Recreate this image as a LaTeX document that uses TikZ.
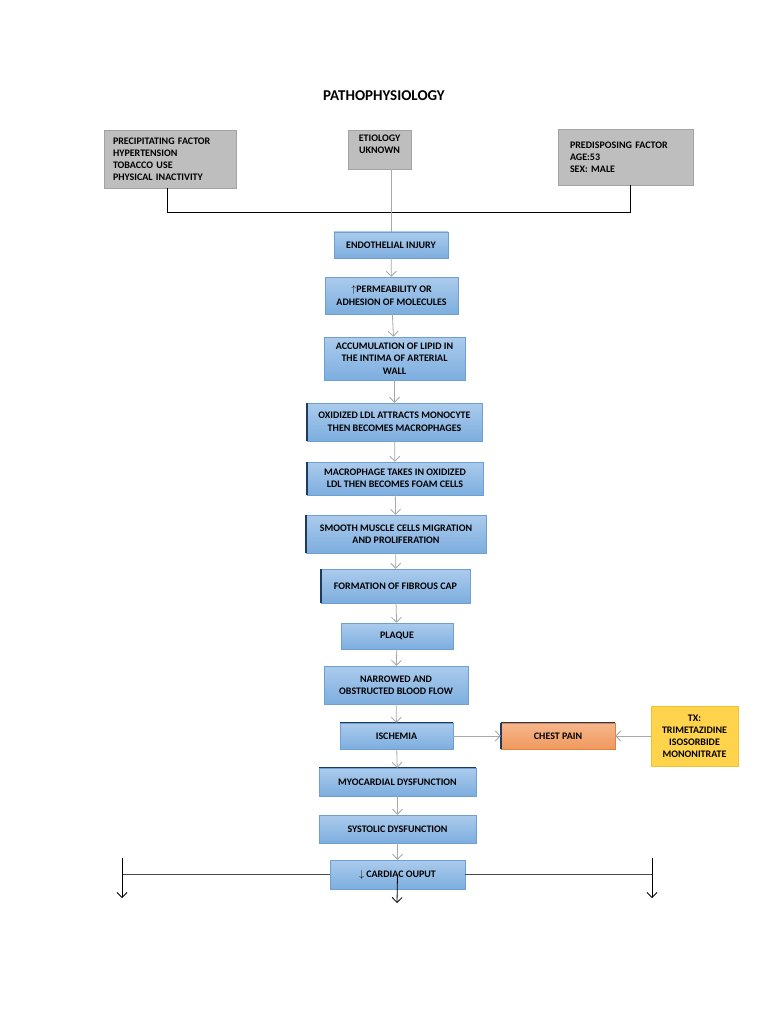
\documentclass[tikz,border=0pt]{standalone}
\usepackage{fontspec}
\setmainfont{Carlito}
\usetikzlibrary{arrows.meta}
\definecolor{boxtop}{HTML}{ABCBEC}
\definecolor{boxbot}{HTML}{7DAEDF}
\definecolor{boxedge}{HTML}{6D9FD3}
\definecolor{boxmark}{HTML}{1F3A5F}
\definecolor{grayfill}{HTML}{BEBEBE}
\definecolor{grayedge}{HTML}{A3A3A3}
\definecolor{orangetop}{HTML}{F6B58B}
\definecolor{orangebot}{HTML}{F09A5E}
\definecolor{orangeedge}{HTML}{E0813F}
\definecolor{yellowfill}{HTML}{FFD34C}
\definecolor{yellowedge}{HTML}{F1C033}
\definecolor{arrowgray}{HTML}{A8A8A8}
\tikzset{
    boxfont/.style={font=\bfseries\fontsize{10}{12.5}\selectfont},
    flowbox/.style={draw=boxedge, top color=boxtop, bottom color=boxbot, align=center, boxfont, inner sep=0pt},
    causebox/.style={draw=grayedge, fill=grayfill, font=\bfseries\fontsize{10}{12}\selectfont, inner sep=0pt},
    painbox/.style={draw=orangeedge, top color=orangetop, bottom color=orangebot, align=center, boxfont, inner sep=0pt},
    txbox/.style={draw=yellowedge, fill=yellowfill, align=center,
        font=\bfseries\fontsize{10}{12}\selectfont, inner sep=0pt},
    markline/.style={draw=boxmark, line width=1.6pt},
    flowarrow/.style={draw=arrowgray, line width=0.8pt, -{Straight Barb[length=5pt, width=10pt]}},
    joinline/.style={draw=black, line width=0.9pt},
}
\begin{document}
\begin{tikzpicture}[x=1pt, y=-1pt]
    \useasboundingbox (0,0) rectangle (768,1024);
    \node[font=\bfseries\fontsize{15}{18}\selectfont] (title) at (384,96) {PATHOPHYSIOLOGY};
    % causes
    \node[causebox, align=left, text width=114, inner xsep=9pt, minimum height=58] (prec) at (170,159)
        {PRECIPITATING FACTOR\\HYPERTENSION\\TOBACCO USE\\PHYSICAL INACTIVITY};
    \node[causebox, align=center, minimum width=63, minimum height=39, text depth=11pt] (etio) at (379.5,149.5)
        {ETIOLOGY\\UKNOWN};
    \node[causebox, align=left, text width=111, inner xsep=12pt, minimum height=56] (pred) at (625.5,157)
        {PREDISPOSING FACTOR\\AGE:53\\SEX: MALE};
    % main chain
    \node[flowbox, minimum width=114, minimum height=26] (endo) at (391,245) {ENDOTHELIAL INJURY};
    \node[flowbox, minimum width=133, minimum height=37] (perm) at (391.5,295.5) {$\uparrow$PERMEABILITY OR\\ADHESION OF MOLECULES};
    \node[flowbox, minimum width=141, minimum height=43] (lipid) at (394.5,358.5) {ACCUMULATION OF LIPID IN\\THE INTIMA OF ARTERIAL\\WALL};
    \node[flowbox, minimum width=175, minimum height=38] (ldl) at (394.5,422) {OXIDIZED LDL ATTRACTS MONOCYTE\\THEN BECOMES MACROPHAGES};
    \node[flowbox, minimum width=176, minimum height=33] (foam) at (395,478.5) {MACROPHAGE TAKES IN OXIDIZED\\LDL THEN BECOMES FOAM CELLS};
    \node[flowbox, minimum width=180, minimum height=38] (muscle) at (396,534) {SMOOTH MUSCLE CELLS MIGRATION\\AND PROLIFERATION};
    \node[flowbox, minimum width=149, minimum height=34] (cap) at (395.5,586) {FORMATION OF FIBROUS CAP};
    \node[flowbox, minimum width=112, minimum height=26] (plaque) at (397,636) {PLAQUE};
    \node[flowbox, minimum width=144, minimum height=38] (narrow) at (396,685) {NARROWED AND\\OBSTRUCTED BLOOD FLOW};
    \node[flowbox, minimum width=113, minimum height=26] (isch) at (396.5,736) {ISCHEMIA};
    \node[painbox, minimum width=114, minimum height=26] (pain) at (558,736) {CHEST PAIN};
    \node[txbox, minimum width=87, minimum height=60] (tx) at (694.5,736) {TX:\\TRIMETAZIDINE\\ISOSORBIDE\\MONONITRATE};
    \node[flowbox, minimum width=157, minimum height=28] (myo) at (397.5,782) {MYOCARDIAL DYSFUNCTION};
    \node[flowbox, minimum width=157, minimum height=28] (sys) at (397.5,829) {SYSTOLIC DYSFUNCTION};
    \node[flowbox, minimum width=135, minimum height=29] (cardiac) at (397.5,874.5) {$\downarrow$ CARDIAC OUPUT};
    % dark edges on some boxes
    \foreach \b in {ldl,foam,muscle,cap,pain}
        \draw[markline] (\b.north west) -- (\b.south west);
    \foreach \b in {isch,pain,myo}
        \draw[markline, line width=1.2pt] (\b.north west) -- (\b.north east);
    % joining line of the causes
    \coordinate (joinleft) at (167,212);
    \coordinate (joinright) at (630,212);
    \draw[joinline] (prec.south -| joinleft) -- (joinleft) -- (joinright) -- (pred.south -| joinright);
    \draw[draw=arrowgray, line width=0.8pt] (etio.south -| endo) -- (endo.north);
    % arrows down the chain
    \draw[flowarrow] (endo) -- (perm);
    \draw[flowarrow] (perm) -- (lipid);
    \draw[flowarrow] (lipid) -- (ldl);
    \draw[flowarrow] (ldl) -- (foam);
    \draw[flowarrow] (foam) -- (muscle);
    \draw[flowarrow] (muscle) -- (cap);
    \draw[flowarrow] (cap) -- (plaque);
    \draw[flowarrow] (plaque) -- (narrow);
    \draw[flowarrow] (narrow) -- (isch);
    \draw[flowarrow] (isch) -- (myo);
    \draw[flowarrow] (myo) -- (sys);
    \draw[flowarrow] (sys) -- (cardiac);
    \draw[flowarrow] (isch) -- (pain);
    \draw[flowarrow] (tx) -- (pain);
    % outputs of cardiac output
    \coordinate (outlefttop) at (122,858);
    \coordinate (outleft) at (122,898);
    \coordinate (outrighttop) at (652,858);
    \coordinate (outright) at (652,898);
    \coordinate (outmid) at (397,903);
    \draw[draw=gray!60!black, line width=1pt] (cardiac.west) -- (cardiac.west -| outleft);
    \draw[draw=gray!60!black, line width=1pt] (cardiac.east) -- (cardiac.east -| outright);
    \draw[flowarrow, draw=black] (outlefttop) -- (outleft);
    \draw[flowarrow, draw=black] (outrighttop) -- (outright);
    \draw[flowarrow, draw=black] (cardiac.center) -- (outmid);
\end{tikzpicture}
\end{document}
